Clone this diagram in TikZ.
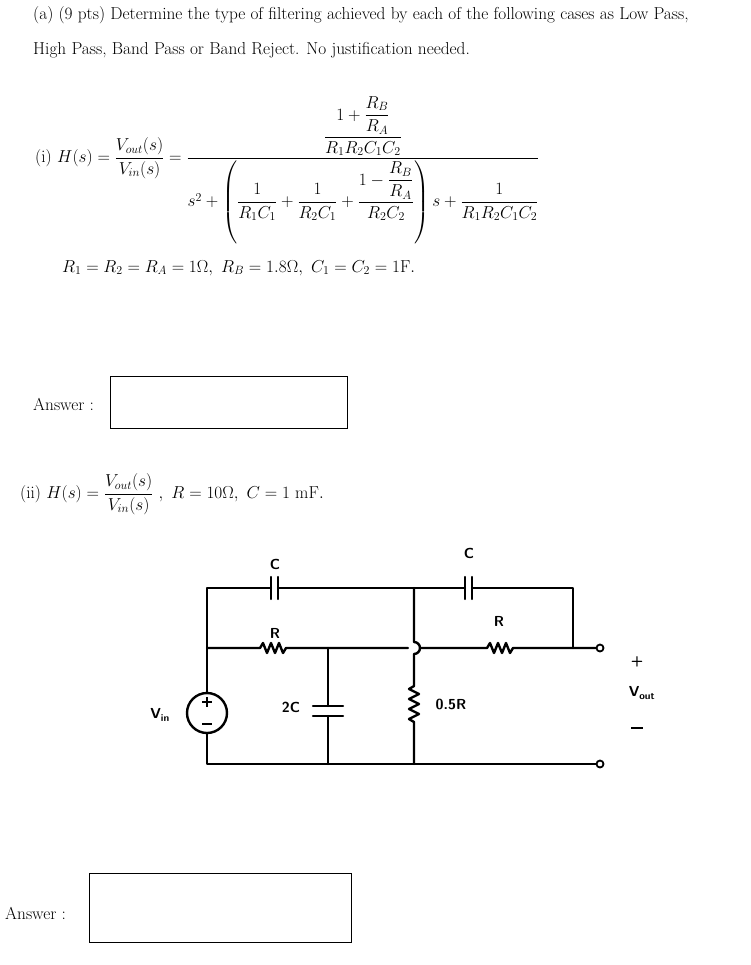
\documentclass[tikz,border=0pt]{standalone}
\usepackage{amsmath}
\begin{document}
\begin{tikzpicture}[x=1pt,y=-1pt,
  txt/.style={anchor=west,inner sep=0pt,font=\fontsize{17.3}{20}\selectfont},
  lbl/.style={inner sep=0pt,font=\sffamily\bfseries\fontsize{14.5}{16}\selectfont},
  w/.style={line width=2.4pt,line cap=round,line join=round},
  term/.style={circle,draw,line width=1.8pt,fill=white,inner sep=0pt,minimum size=7pt},
  box/.style={draw,line width=0.9pt}]
\useasboundingbox (0,0) rectangle (751,965);
\node[txt] (t1) at (33,15) {(a) (9 pts) Determine the type of filtering achieved by each of the following cases as Low Pass,};
\node[txt] (t2) at (33,50) {High Pass, Band Pass or Band Reject. No justification needed.};
\node[txt,font=\fontsize{18}{20}\selectfont] (eq) at (35,170) {$\displaystyle (\mathrm{i})\ H(s)=\frac{V_{out}(s)}{V_{in}(s)}=
\frac{\dfrac{1+\dfrac{R_B}{R_A}}{R_1R_2C_1C_2}}{s^2+\left(\dfrac{1}{R_1C_1}+\dfrac{1}{R_2C_1}+\dfrac{1-\dfrac{R_B}{R_A}}{R_2C_2}\right)s+\dfrac{1}{R_1R_2C_1C_2}}$};
\node[txt] (vals) at (62,268) {$R_1=R_2=R_A=1\Omega,\ R_B=1.8\Omega,\ C_1=C_2=1\mathrm{F}.$};
\node[txt] (a1) at (33,404) {Answer :};
\node[box,minimum width=237pt,minimum height=52pt,anchor=north west] (b1) at (110,376) {};
\node[txt] (eq2) at (20,494) {$\displaystyle (\mathrm{ii})\ H(s)=\frac{V_{out}(s)}{V_{in}(s)}\ ,\ R=10\Omega,\ C=1\ \mathrm{mF}.$};
\node[txt] (a2) at (5,913) {Answer :};
\node[box,minimum width=262pt,minimum height=69pt,anchor=north west] (b2) at (89,873) {};
% circuit
\coordinate (tl) at (207,588);
\coordinate (ml) at (207,648);
\coordinate (bl) at (207,764);
\coordinate (j) at (414,588);
\coordinate (tr) at (573,588);
\coordinate (mr) at (573,648);
\node[term] (o1) at (600,648) {};
\node[term] (o2) at (600,764) {};
\node[circle,draw,line width=2.4pt,minimum size=40pt,inner sep=0pt] (src) at (207,713) {};
\draw[w] (src.north) -- (ml) -- (tl) -- (271,588);
\draw[w] (271,577) -- (271,599) (278,577) -- (278,599);
\draw[w] (278,588) -- (465,588);
\draw[w] (465,577) -- (465,599) (472,577) -- (472,599);
\draw[w] (472,588) -- (tr) -- (mr);
\draw[w] (ml) -- (257,648) -- (260,648) -- (263,643) -- (267,653) -- (271,643) -- (275,653) -- (279,643) -- (283,653) -- (286,648) -- (408,648);
\draw[w] (420,648) -- (484,648) -- (487,648) -- (490,643) -- (494,653) -- (498,643) -- (502,653) -- (506,643) -- (510,653) -- (513,648) -- (o1.west);
\draw[w] (j) -- (414,642) arc[start angle=-90,end angle=90,radius=6] -- (414,686) -- (409,689) -- (419,694) -- (409,699) -- (419,704) -- (409,709) -- (419,714) -- (409,719) -- (414,722) -- (414,764);
\draw[w] (328,648) -- (328,706) (313,706) -- (343,706) (313,716) -- (343,716) (328,716) -- (328,764);
\draw[w] (src.south) -- (bl) -- (o2.west);
\draw[line width=2pt] (207,697) -- (207,707) (202,702) -- (212,702) (202,724) -- (212,724);
\node[lbl] (lc1) at (275,564) {C};
\node[lbl] (lc2) at (469,553) {C};
\node[lbl] (lr1) at (275,633) {R};
\node[lbl] (lr2) at (499,621) {R};
\node[lbl] (l2c) at (291,707) {2C};
\node[lbl] (l05) at (451,704) {0.5R};
\node[lbl] (lvin) at (160,715) {V\textsubscript{in}};
\node[lbl] (lp) at (637,662) {+};
\node[lbl] (lvo) at (642,693) {V\textsubscript{out}};
\draw[line width=2.5pt] (631,728) -- (643,728);
\end{tikzpicture}
\end{document}
